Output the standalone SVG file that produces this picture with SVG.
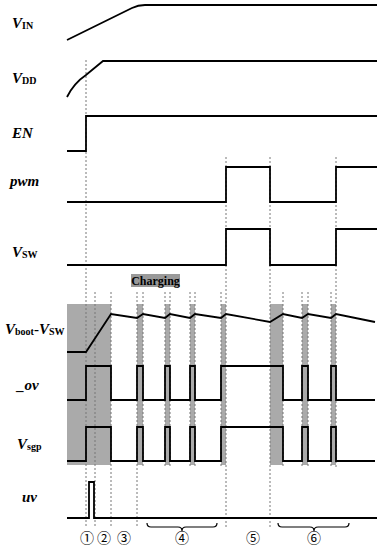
<svg xmlns="http://www.w3.org/2000/svg" width="386" height="550" viewBox="0 0 386 550">
<style>
.w{fill:none;stroke:#000;stroke-width:1.8;stroke-linejoin:miter}
.d{fill:none;stroke:#777;stroke-width:1;stroke-dasharray:2,2}
.g{fill:#aaa;stroke:none}
.lbl{font-style:italic;font-weight:bold;font-size:15px;fill:#000}
.sub{font-style:normal;font-size:10px}
.num{font-size:14px;fill:#000}
.br{fill:none;stroke:#000;stroke-width:1.2}
.chg{font-weight:bold;font-size:12px;fill:#000}
</style>
<rect width="386" height="550" fill="#fff"/>
<g id="shading">
<rect class="g" x="67" y="304" width="44" height="161"/>
<rect class="g" x="137" y="304" width="6" height="161"/>
<rect class="g" x="165" y="304" width="5" height="161"/>
<rect class="g" x="190" y="304" width="5" height="161"/>
<rect class="g" x="221" y="304" width="5" height="161"/>
<rect class="g" x="270" y="304" width="13" height="161"/>
<rect class="g" x="302" y="304" width="6" height="161"/>
<rect class="g" x="331" y="304" width="5" height="161"/>
</g>
<g id="connectors">
<line class="d" x1="86" y1="60" x2="86" y2="528"/>
<line class="d" x1="226" y1="157" x2="226" y2="528"/>
<line class="d" x1="270" y1="157" x2="270" y2="528"/>
<line class="d" x1="336" y1="157" x2="336" y2="468"/>
<line class="d" x1="95" y1="292" x2="95" y2="528"/>
<line class="d" x1="111" y1="292" x2="111" y2="528"/>
<line class="d" x1="137" y1="292" x2="137" y2="528"/>
<line class="d" x1="143" y1="292" x2="143" y2="468"/>
<line class="d" x1="165" y1="292" x2="165" y2="468"/>
<line class="d" x1="170" y1="292" x2="170" y2="468"/>
<line class="d" x1="190" y1="292" x2="190" y2="468"/>
<line class="d" x1="195" y1="292" x2="195" y2="468"/>
<line class="d" x1="221" y1="292" x2="221" y2="468"/>
<line class="d" x1="283" y1="292" x2="283" y2="468"/>
<line class="d" x1="302" y1="292" x2="302" y2="468"/>
<line class="d" x1="308" y1="292" x2="308" y2="468"/>
<line class="d" x1="331" y1="292" x2="331" y2="468"/>
</g>
<g id="VIN">
<text class="lbl" x="12" y="28" font-family="Liberation Serif, serif">V<tspan class="sub" dy="1">IN</tspan></text>
<path class="w" d="M67,40 L132,8 Q138,5 145,5 L377,5"/>
</g>
<g id="VDD">
<text class="lbl" x="12" y="83" font-family="Liberation Serif, serif">V<tspan class="sub" dy="1">DD</tspan></text>
<path class="w" d="M67,97 Q74,83 86,75 L103,61 L377,61"/>
</g>
<g id="EN">
<text class="lbl" x="12" y="138" font-family="Liberation Serif, serif">EN</text>
<path class="w" d="M67,151 L86,151 L86,116 L377,116"/>
</g>
<g id="pwm">
<text class="lbl" x="10" y="186" font-family="Liberation Serif, serif">pwm</text>
<path class="w" d="M67,202 L226,202 L226,167 L270,167 L270,202 L336,202 L336,167 L377,167"/>
</g>
<g id="VSW">
<text class="lbl" x="12" y="257" font-family="Liberation Serif, serif">V<tspan class="sub" dy="1">SW</tspan></text>
<path class="w" d="M67,265 L226,265 L226,229 L270,229 L270,265 L336,265 L336,229 L377,229"/>
</g>
<g id="charging">
<rect x="131" y="274" width="49" height="13" fill="#999"/>
<text class="chg" x="155.5" y="285" text-anchor="middle" font-family="Liberation Serif, serif">Charging</text>
</g>
<g id="Vboot">
<text class="lbl" x="5" y="334" font-family="Liberation Serif, serif">V<tspan class="sub" dy="1">boot</tspan><tspan dy="-1" style="font-style:normal">-</tspan>V<tspan class="sub" dy="1">SW</tspan></text>
<path class="w" d="M67,352 L86,352 L111,314 L137,318 L143,314 L165,318 L170,314 L190,318 L195,314 L221,318 L226,314 L270,322 L283,314 L302,318 L308,314 L331,318 L336,314 L375,322"/>
</g>
<g id="ov">
<text class="lbl" x="17" y="390" font-family="Liberation Serif, serif">_ov</text>
<path class="w" d="M67,400 L86,400 L86,366 L111,366 L111,400 L137,400 L137,366 L143,366 L143,400 L165,400 L165,366 L170,366 L170,400 L190,400 L190,366 L195,366 L195,400 L221,400 L221,366 L283,366 L283,400 L302,400 L302,366 L308,366 L308,400 L331,400 L331,366 L336,366 L336,400 L375,400"/>
</g>
<g id="Vsgp">
<text class="lbl" x="17" y="449" font-family="Liberation Serif, serif">V<tspan class="sub" dy="1">sgp</tspan></text>
<path class="w" d="M67,461 L86,461 L86,427 L111,427 L111,461 L137,461 L137,427 L143,427 L143,461 L165,461 L165,427 L170,427 L170,461 L190,461 L190,427 L195,427 L195,461 L221,461 L221,427 L283,427 L283,461 L302,461 L302,427 L308,427 L308,461 L331,461 L331,427 L336,427 L336,461 L375,461"/>
</g>
<g id="uv">
<text class="lbl" x="22" y="502" font-family="Liberation Serif, serif">uv</text>
<path class="w" d="M67,518 L89,518 L89,482 L94,482 L94,518 L377,518"/>
</g>
<g id="phases" font-family="Noto Sans CJK SC, sans-serif">
<text class="num" x="87" y="543" text-anchor="middle">①</text>
<text class="num" x="104" y="543" text-anchor="middle">②</text>
<text class="num" x="124" y="543" text-anchor="middle">③</text>
<path class="br" d="M147,523 Q147,527 151,527 L178,527 Q182,527 182,531 Q182,527 186,527 L213,527 Q217,527 217,523"/>
<text class="num" x="182" y="543" text-anchor="middle">④</text>
<text class="num" x="253" y="543" text-anchor="middle">⑤</text>
<path class="br" d="M278,523 Q278,527 282,527 L310,527 Q314,527 314,531 Q314,527 318,527 L345,527 Q349,527 349,523"/>
<text class="num" x="314" y="543" text-anchor="middle">⑥</text>
</g>
</svg>
